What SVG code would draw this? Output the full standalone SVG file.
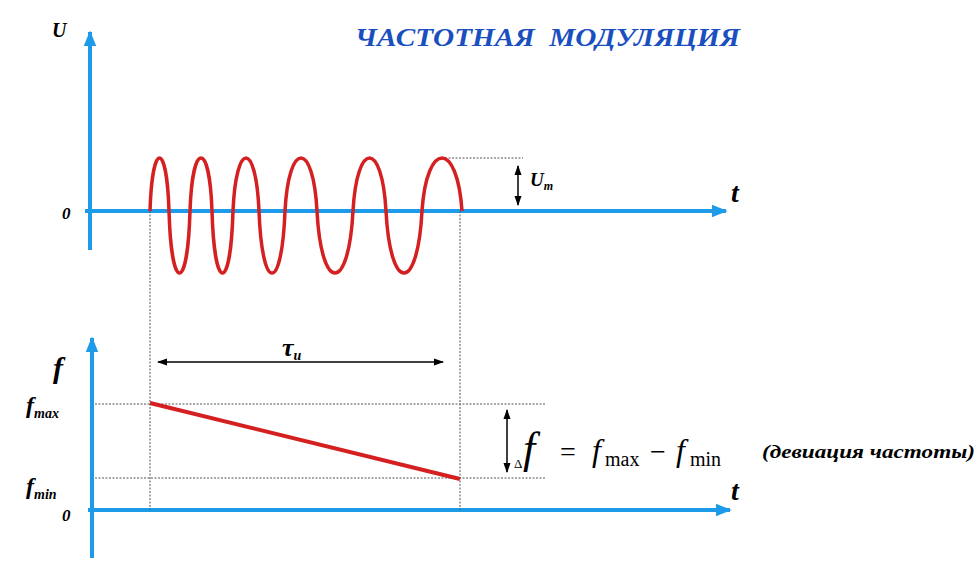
<svg xmlns="http://www.w3.org/2000/svg" width="975" height="564" viewBox="0 0 975 564">
<style>
.ax{stroke:#1e9be8;stroke-width:4;fill:none}
.dot{stroke:#555;stroke-width:1;stroke-dasharray:2 1.5;fill:none}
.blk{stroke:#000;stroke-width:1.5;fill:none}
.t{font-family:"Liberation Serif","DejaVu Serif",serif;font-style:italic;font-weight:bold;fill:#000}
.m{font-family:"Liberation Serif","DejaVu Serif",serif;fill:#000}
</style>
<defs>
<marker id="ba" viewBox="0 0 10 10" refX="9" refY="5" markerWidth="4" markerHeight="4" orient="auto-start-reverse"><path d="M0,1 L10,5 L0,9 Z" fill="#1e9be8"/></marker>
<marker id="ka" viewBox="0 0 10 10" refX="9" refY="5" markerWidth="7" markerHeight="7" orient="auto-start-reverse"><path d="M0,1.5 L10,5 L0,8.5 Z" fill="#000"/></marker>
</defs>
<rect width="975" height="564" fill="#fff"/>
<g id="connectors">
<line class="ax" x1="90" y1="250" x2="90" y2="32" marker-end="url(#ba)"/>
<line class="ax" x1="85" y1="211" x2="726" y2="211" marker-end="url(#ba)"/>
<line class="ax" x1="92" y1="558" x2="92" y2="338" marker-end="url(#ba)"/>
<line class="ax" x1="88" y1="510" x2="730" y2="510" marker-end="url(#ba)"/>
<line class="dot" x1="150" y1="211" x2="150" y2="510"/>
<line class="dot" x1="460" y1="211" x2="460" y2="510"/>
<line class="dot" x1="445" y1="158" x2="523" y2="158"/>
<line class="dot" x1="95" y1="404" x2="545" y2="404"/>
<line class="dot" x1="95" y1="478" x2="545" y2="478"/>
<line class="blk" x1="518" y1="166" x2="518" y2="205" marker-start="url(#ka)" marker-end="url(#ka)"/>
<line class="blk" x1="158" y1="362" x2="443" y2="362" marker-start="url(#ka)" marker-end="url(#ka)"/>
<line class="blk" x1="507" y1="410" x2="507" y2="472" marker-start="url(#ka)" marker-end="url(#ka)"/>
</g>
<g id="wave">
<path fill="none" stroke="#d42020" stroke-width="3.5" d="M150,211 C152.3,140.3 166.7,140.3 169,211 C171.5,293.7 187.5,293.7 190,211 C192.6,140.3 209.4,140.3 212,211 C214.5,293.7 230.5,293.7 233,211 C236.1,140.3 255.9,140.3 259,211 C262.1,293.7 281.9,293.7 285,211 C288.8,140.3 313.2,140.3 317,211 C321.3,293.7 348.7,293.7 353,211 C357,140.3 382,140.3 386,211 C390.3,293.7 417.7,293.7 422,211 C426.8,140.3 457.2,140.3 462,211"/>
<line x1="150" y1="403" x2="460" y2="479" stroke="#d42020" stroke-width="4"/>
</g>
<g id="labels">
<text x="355" y="46" font-family="'Liberation Serif','DejaVu Serif',serif" font-style="italic" font-weight="bold" font-size="26" fill="#1a4fc0" textLength="385" lengthAdjust="spacingAndGlyphs" xml:space="preserve">ЧАСТОТНАЯ  МОДУЛЯЦИЯ</text>
<text class="t" x="52" y="37" font-size="20">U</text>
<text class="t" x="62" y="219" font-size="17">0</text>
<text class="t" x="731" y="202" font-size="28">t</text>
<text class="t" x="530" y="186" font-size="19">U<tspan font-size="12" dy="4">m</tspan></text>
<text class="t" x="53" y="378" font-size="30">f</text>
<text class="t" x="26" y="413" font-size="24">f<tspan font-size="14" dy="5">max</tspan></text>
<text class="t" x="26" y="494" font-size="24">f<tspan font-size="14" dy="5">min</tspan></text>
<text class="t" x="62" y="521" font-size="17">0</text>
<text class="t" x="731" y="500" font-size="28">t</text>
<text class="t" x="282" y="356" font-size="26">τ<tspan font-size="14" dy="4">и</tspan></text>
<text class="m" x="514" y="468" font-size="13">Δ</text>
<text class="m" x="523" y="463" font-size="44" font-style="italic">f</text>
<text class="m" x="560" y="461" font-size="28">=</text>
<text class="m" x="592" y="461" font-size="32" font-style="italic">f</text>
<text class="m" x="605" y="466" font-size="20">max</text>
<text class="m" x="650" y="461" font-size="28">−</text>
<text class="m" x="676" y="461" font-size="32" font-style="italic">f</text>
<text class="m" x="690" y="466" font-size="20">min</text>
<text class="t" x="762" y="458" font-size="19" textLength="213" lengthAdjust="spacingAndGlyphs">(девиация частоты)</text>
</g>
</svg>
